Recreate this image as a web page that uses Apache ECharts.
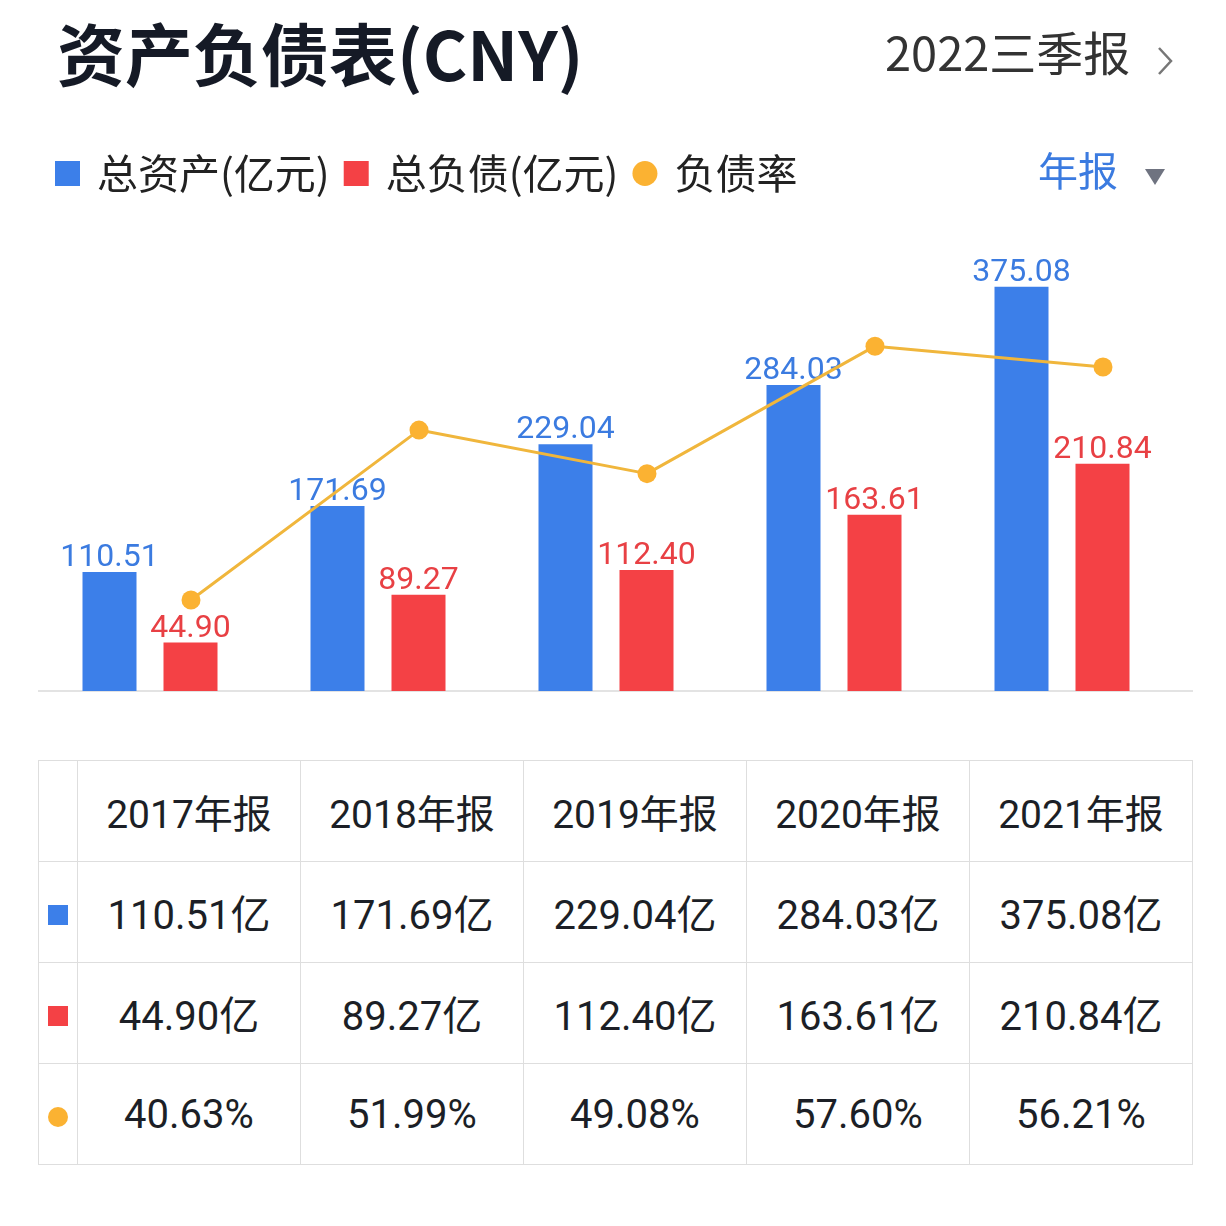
<!DOCTYPE html>
<html lang="zh">
<head>
<meta charset="UTF-8">
<title>资产负债表</title>
<script src="https://cdn.jsdelivr.net/npm/echarts@6/dist/echarts.min.js"></script>
<style>
    html, body { margin: 0; padding: 0; background: #fff; }
    #wrap { position: relative; width: 1226px; height: 1226px; }
    #chart { position: absolute; left: 0; top: 0; width: 1226px; height: 740px; }
    #tbl {
        position: absolute; left: 38px; top: 760px;
        border-collapse: collapse; table-layout: fixed;
        font-family: Roboto, "Noto Sans CJK SC", sans-serif;
        color: #1c1f26;
    }
    #tbl td {
        border: 1.5px solid #dedede; height: 100px; padding: 0;
        text-align: center; font-size: 40px;
    }
    #tbl tr:first-child td { font-size: 39px; }
    #tbl td.mk { width: 38px; }
    #tbl td.cell { width: 222px; }
    .sq { display: inline-block; width: 20px; height: 20px; vertical-align: middle; }
    .dot { display: inline-block; width: 20px; height: 20px; border-radius: 50%; vertical-align: middle; }
</style>
</head>
<body>
<div id="wrap">
    <div id="chart"></div>
    <table id="tbl"></table>
</div>
<script>
    // 数据
    const years = ['2017年报', '2018年报', '2019年报', '2020年报', '2021年报'];
    const totalAssets = [110.51, 171.69, 229.04, 284.03, 375.08];
    const totalDebt = [44.90, 89.27, 112.40, 163.61, 210.84];
    const debtRatio = [40.63, 51.99, 49.08, 57.60, 56.21];

    const blue = '#3c7fe9';
    const red = '#f44145';
    const orange = '#fbb232';

    // 图表
    const myChart = echarts.init(document.getElementById('chart'));
    const option = {
        animation: false,
        legend: {
            left: 50,
            top: 148,
            itemWidth: 25,
            itemHeight: 25,
            itemGap: 14,
            textStyle: {
                fontSize: 41,
                color: '#222',
                fontFamily: 'Noto Sans CJK SC',
                padding: [0, 0, 0, 12]
            },
            data: [
                {name: '总资产(亿元)', icon: 'rect'},
                {name: '总负债(亿元)', icon: 'rect'},
                {name: '负债率', icon: 'circle'}
            ]
        },
        grid: [
            {left: 36, right: 50, top: 260, height: 431},
            {left: 77, right: 9, top: 260, height: 431}
        ],
        xAxis: [
            {
                type: 'category', data: years, gridIndex: 0,
                axisLine: {show: false}, axisTick: {show: false}, axisLabel: {show: false}
            },
            {
                type: 'category', data: years, gridIndex: 1,
                axisLine: {show: false}, axisTick: {show: false}, axisLabel: {show: false}
            }
        ],
        yAxis: [
            {type: 'value', gridIndex: 0, min: 0, max: 400, show: false, splitLine: {show: false}},
            {type: 'value', gridIndex: 1, min: 34.55, max: 63.36, show: false, splitLine: {show: false}}
        ],
        graphic: [
            {
                type: 'text', left: 57, top: 21,
                style: {
                    text: '资产负债表(CNY)', fontSize: 68, fontWeight: 'bold',
                    fill: '#151a26', fontFamily: 'Noto Sans CJK SC'
                }
            },
            {
                type: 'text', left: 885, top: 30,
                style: {
                    text: '2022三季报', fontSize: 47, fill: '#333',
                    fontFamily: 'Noto Sans CJK SC'
                }
            },
            {
                type: 'polyline',
                shape: {points: [[1159, 48], [1171, 61], [1159, 74]]},
                style: {stroke: '#777', lineWidth: 2.5, fill: null}
            },
            {
                type: 'text', left: 1038, top: 151,
                style: {
                    text: '年报', fontSize: 40, fill: '#3b7be0',
                    fontFamily: 'Noto Sans CJK SC'
                }
            },
            {
                type: 'polygon',
                shape: {points: [[1145, 169], [1165, 169], [1155, 185]]},
                style: {fill: '#6f7380'}
            },
            {
                type: 'line',
                shape: {x1: 38, y1: 691, x2: 1193, y2: 691},
                style: {stroke: '#e3e3e3', lineWidth: 2}
            }
        ],
        series: [
            {
                name: '总资产(亿元)', type: 'bar', xAxisIndex: 0, yAxisIndex: 0,
                data: totalAssets, barWidth: 54, barGap: '50%',
                itemStyle: {color: blue},
                label: {
                    show: true, position: 'top', distance: -2,
                    fontSize: 32, color: '#3b7be0', fontFamily: 'Roboto',
                    formatter: p => p.value.toFixed(2)
                }
            },
            {
                name: '总负债(亿元)', type: 'bar', xAxisIndex: 0, yAxisIndex: 0,
                data: totalDebt, barWidth: 54,
                itemStyle: {color: red},
                label: {
                    show: true, position: 'top', distance: -2,
                    fontSize: 32, color: '#e84044', fontFamily: 'Roboto',
                    formatter: p => p.value.toFixed(2)
                }
            },
            {
                name: '负债率', type: 'line', xAxisIndex: 1, yAxisIndex: 1,
                data: debtRatio, symbol: 'circle', symbolSize: 19,
                lineStyle: {color: '#f0b63c', width: 3},
                itemStyle: {color: orange},
                z: 5
            }
        ]
    };
    myChart.setOption(option);

    // 表格
    const tbl = document.getElementById('tbl');
    let html = '<tr><td class="mk"></td>';
    years.forEach(y => { html += '<td class="cell">' + y + '</td>'; });
    html += '</tr>';
    const rows = [
        {mark: '<span class="sq" style="background:' + blue + '"></span>', vals: totalAssets.map(v => v.toFixed(2) + '亿')},
        {mark: '<span class="sq" style="background:' + red + '"></span>', vals: totalDebt.map(v => v.toFixed(2) + '亿')},
        {mark: '<span class="dot" style="background:' + orange + '"></span>', vals: debtRatio.map(v => v.toFixed(2) + '%')}
    ];
    rows.forEach(r => {
        html += '<tr><td class="mk">' + r.mark + '</td>';
        r.vals.forEach(v => { html += '<td class="cell">' + v + '</td>'; });
        html += '</tr>';
    });
    tbl.innerHTML = html;
</script>
</body>
</html>
